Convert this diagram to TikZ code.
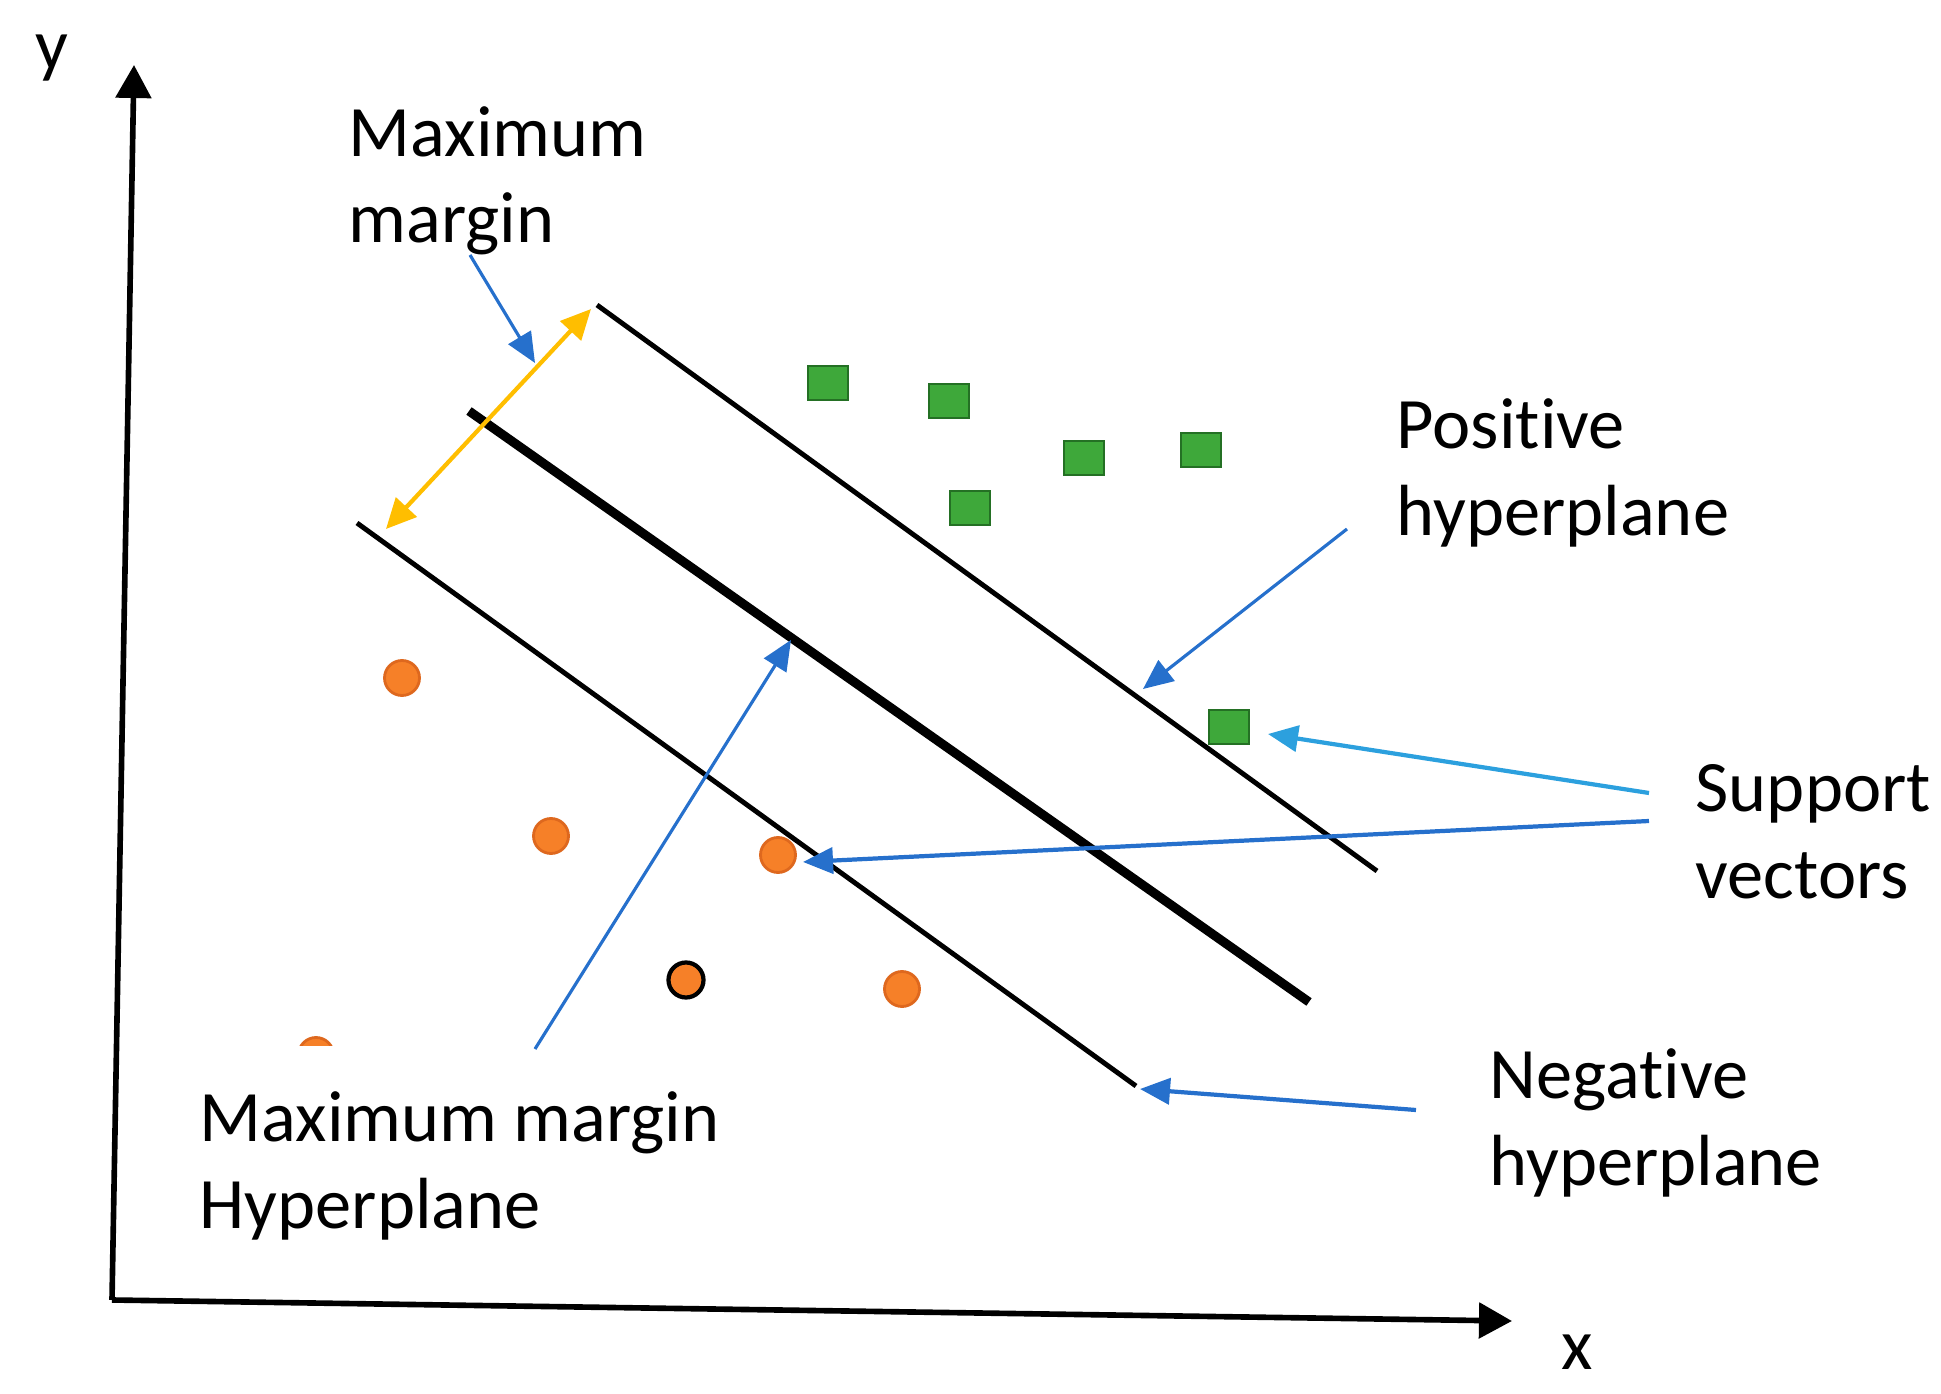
\documentclass[tikz,border=0pt]{standalone}
\usepackage{fontspec}
\setmainfont{Carlito}[Ligatures=NoCommon]
\usetikzlibrary{arrows.meta}
\definecolor{posfill}{RGB}{62,168,58}
\definecolor{posline}{RGB}{36,112,36}
\definecolor{negfill}{RGB}{246,128,40}
\definecolor{negline}{RGB}{222,104,30}
\definecolor{callblue}{RGB}{38,112,204}
\definecolor{calllight}{RGB}{44,160,222}
\definecolor{marginyel}{RGB}{255,190,0}
\tikzset{ posbox/.style = { rectangle
                          , draw = posline
                          , fill = posfill
                          , line width   = 0.8pt
                          , inner sep    = 0pt
                          , minimum width  = 4.0mm
                          , minimum height = 3.4mm
                          },
          negdot/.style = { circle
                          , draw = negline
                          , fill = negfill
                          , line width   = 0.8pt
                          , inner sep    = 0pt
                          , minimum size = 3.5mm
                          },
          lbl/.style = { anchor = base west
                       , align  = left
                       , inner sep = 0pt
                       , font = \fontsize{20.6}{24.7}\selectfont
                       },
          call/.style = { draw = callblue
                        , line width = 0.9pt
                        , -{Triangle[length=3mm, width=2.6mm]}
                        }
        }
\begin{document}
\begin{tikzpicture}[x=0.01cm, y=-0.01cm]
      \useasboundingbox (0,0) rectangle (1941,1394);
      % axes
      \coordinate (o)  at (112,1300);
      \coordinate (yt) at (134,65);
      \coordinate (xt) at (1512,1321);
      \draw[line width=1.6pt, -{Triangle[length=3.3mm, width=3.5mm]}] (o) -- (yt);
      \draw[line width=1.6pt, -{Triangle[length=3.3mm, width=3.5mm]}] (o) -- (xt);
      \node[lbl] (ylab) at (35,70)    {y};
      \node[lbl] (xlab) at (1561,1369) {x};
      % hyperplanes
      \coordinate (p1) at (597,305);   \coordinate (p2) at (1377,871);
      \coordinate (m1) at (469,411);   \coordinate (m2) at (1309,1002);
      \coordinate (n1) at (357,523);   \coordinate (n2) at (1136,1086);
      \draw[line width=1.4pt] (p1) -- (p2);
      \draw[line width=2.6pt] (m1) -- (m2);
      \draw[line width=1.4pt] (n1) -- (n2);
      % margin
      \coordinate (ya) at (386,529);
      \coordinate (yb) at (591,309);
      \draw[draw=marginyel, line width=1.2pt,
            {Triangle[length=3mm, width=2.8mm]}-{Triangle[length=3mm, width=2.8mm]}] (ya) -- (yb);
      % positive points
      \node[posbox] (g1) at (828,383)  {};
      \node[posbox] (g2) at (949,401)  {};
      \node[posbox] (g3) at (1084,458) {};
      \node[posbox] (g4) at (1201,450) {};
      \node[posbox] (g5) at (970,508)  {};
      \node[posbox] (g6) at (1229,727) {};
      % negative points
      \node[negdot] (r1) at (402,678) {};
      \node[negdot] (r2) at (551,836) {};
      \node[negdot] (r3) at (778,855) {};
      \node[negdot] (r4) at (902,989) {};
      \node[negdot, draw=black, line width=1.2pt] (r5) at (686,980) {};
      \begin{scope}
        \clip (250,1000) rectangle (380,1045);
        \node[negdot] (r6) at (316,1055) {};
      \end{scope}
      % labels (base = last line)
      \node[lbl] (mm)  at (348,243)  {Maximum\\margin};
      \node[lbl] (ph)  at (1396,535) {Positive\\hyperplane};
      \node[lbl] (sv)  at (1695,898) {Support\\vectors};
      \node[lbl] (mmh) at (199,1228) {Maximum margin\\Hyperplane};
      \node[lbl] (nh)  at (1489,1185) {Negative\\hyperplane};
      % callouts
      \coordinate (mmA) at (470,255);   \coordinate (mmB) at (535,363);
      \coordinate (phA) at (1347,529);  \coordinate (phB) at (1143,689);
      \coordinate (svA) at (1649,793);  \coordinate (svB) at (1268,734);
      \coordinate (svC) at (1649,821);  \coordinate (svD) at (803,862);
      \coordinate (mhA) at (535,1049);  \coordinate (mhB) at (791,640);
      \coordinate (nhA) at (1416,1110); \coordinate (nhB) at (1140,1089);
      \draw[call] (mmA) -- (mmB);
      \draw[call] (phA) -- (phB);
      \draw[call, draw=calllight, line width=1.2pt] (svA) -- (svB);
      \draw[call, line width=1.2pt] (svC) -- (svD);
      \draw[call] (mhA) -- (mhB);
      \draw[call, line width=1.2pt] (nhA) -- (nhB);
\end{tikzpicture}
\end{document}
